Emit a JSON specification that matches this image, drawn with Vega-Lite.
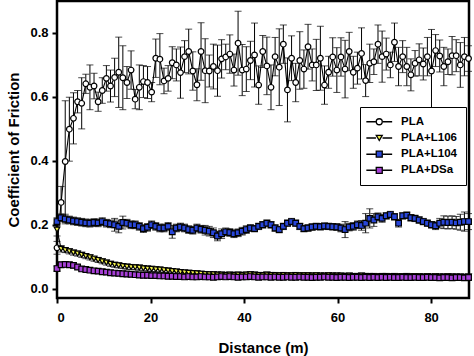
{
"$schema":"https://vega.github.io/schema/vega-lite/v6.json",
"width":412,"height":297,
"autosize":{"type":"none"},
"padding":{"left":57,"top":1,"right":5,"bottom":58},
"background":"white",
"data":{"values":[
{"s":"PLA","x":0,"y":0.128,"e":0.02},{"s":"PLA","x":0.88,"y":0.27,"e":0.05},{"s":"PLA","x":1.76,"y":0.398,"e":0.19},{"s":"PLA","x":2.64,"y":0.499,"e":0.1},{"s":"PLA","x":3.52,"y":0.533,"e":0.08},{"s":"PLA","x":4.4,"y":0.585,"e":0.035},{"s":"PLA","x":5.28,"y":0.58,"e":0.08},{"s":"PLA","x":6.16,"y":0.641,"e":0.03},{"s":"PLA","x":7.04,"y":0.63,"e":0.07},{"s":"PLA","x":7.92,"y":0.634,"e":0.04},
{"s":"PLA","x":8.8,"y":0.585,"e":0.03},{"s":"PLA","x":9.68,"y":0.62,"e":0.04},{"s":"PLA","x":10.56,"y":0.658,"e":0.04},{"s":"PLA","x":11.44,"y":0.634,"e":0.05},{"s":"PLA","x":12.32,"y":0.661,"e":0.06},{"s":"PLA","x":13.2,"y":0.677,"e":0.11},{"s":"PLA","x":14.08,"y":0.66,"e":0.1},{"s":"PLA","x":14.96,"y":0.645,"e":0.05},{"s":"PLA","x":15.84,"y":0.684,"e":0.06},{"s":"PLA","x":16.72,"y":0.593,"e":0.03},
{"s":"PLA","x":17.6,"y":0.63,"e":0.07},{"s":"PLA","x":18.48,"y":0.648,"e":0.05},{"s":"PLA","x":19.36,"y":0.645,"e":0.05},{"s":"PLA","x":20.24,"y":0.615,"e":0.03},{"s":"PLA","x":21.12,"y":0.721,"e":0.06},{"s":"PLA","x":22,"y":0.718,"e":0.08},{"s":"PLA","x":22.88,"y":0.65,"e":0.04},{"s":"PLA","x":23.76,"y":0.658,"e":0.04},{"s":"PLA","x":24.64,"y":0.707,"e":0.05},{"s":"PLA","x":25.52,"y":0.7,"e":0.05},
{"s":"PLA","x":26.4,"y":0.676,"e":0.08},{"s":"PLA","x":27.28,"y":0.726,"e":0.05},{"s":"PLA","x":28.16,"y":0.742,"e":0.07},{"s":"PLA","x":29.04,"y":0.681,"e":0.06},{"s":"PLA","x":29.92,"y":0.638,"e":0.05},{"s":"PLA","x":30.8,"y":0.742,"e":0.09},{"s":"PLA","x":31.68,"y":0.682,"e":0.1},{"s":"PLA","x":32.56,"y":0.681,"e":0.05},{"s":"PLA","x":33.44,"y":0.695,"e":0.07},{"s":"PLA","x":34.32,"y":0.682,"e":0.08},
{"s":"PLA","x":35.2,"y":0.719,"e":0.06},{"s":"PLA","x":36.08,"y":0.725,"e":0.04},{"s":"PLA","x":36.96,"y":0.734,"e":0.06},{"s":"PLA","x":37.84,"y":0.684,"e":0.05},{"s":"PLA","x":38.72,"y":0.768,"e":0.1},{"s":"PLA","x":39.6,"y":0.684,"e":0.08},{"s":"PLA","x":40.48,"y":0.687,"e":0.07},{"s":"PLA","x":41.36,"y":0.714,"e":0.06},{"s":"PLA","x":42.24,"y":0.731,"e":0.1},{"s":"PLA","x":43.12,"y":0.637,"e":0.06},
{"s":"PLA","x":44,"y":0.742,"e":0.05},{"s":"PLA","x":44.88,"y":0.697,"e":0.09},{"s":"PLA","x":45.76,"y":0.63,"e":0.07},{"s":"PLA","x":46.64,"y":0.726,"e":0.06},{"s":"PLA","x":47.52,"y":0.693,"e":0.12},{"s":"PLA","x":48.4,"y":0.765,"e":0.06},{"s":"PLA","x":49.28,"y":0.622,"e":0.1},{"s":"PLA","x":50.16,"y":0.721,"e":0.07},{"s":"PLA","x":51.04,"y":0.645,"e":0.06},{"s":"PLA","x":51.92,"y":0.714,"e":0.09},
{"s":"PLA","x":52.8,"y":0.687,"e":0.06},{"s":"PLA","x":53.68,"y":0.757,"e":0.07},{"s":"PLA","x":54.56,"y":0.7,"e":0.05},{"s":"PLA","x":55.44,"y":0.7,"e":0.08},{"s":"PLA","x":56.32,"y":0.721,"e":0.1},{"s":"PLA","x":57.2,"y":0.637,"e":0.06},{"s":"PLA","x":58.08,"y":0.677,"e":0.05},{"s":"PLA","x":58.96,"y":0.725,"e":0.06},{"s":"PLA","x":59.84,"y":0.684,"e":0.07},{"s":"PLA","x":60.72,"y":0.725,"e":0.06},
{"s":"PLA","x":61.6,"y":0.687,"e":0.09},{"s":"PLA","x":62.48,"y":0.742,"e":0.06},{"s":"PLA","x":63.36,"y":0.677,"e":0.05},{"s":"PLA","x":64.24,"y":0.69,"e":0.05},{"s":"PLA","x":65.12,"y":0.736,"e":0.08},{"s":"PLA","x":66,"y":0.651,"e":0.05},{"s":"PLA","x":66.88,"y":0.705,"e":0.06},{"s":"PLA","x":67.76,"y":0.71,"e":0.04},{"s":"PLA","x":68.64,"y":0.765,"e":0.06},{"s":"PLA","x":69.52,"y":0.726,"e":0.08},
{"s":"PLA","x":70.4,"y":0.734,"e":0.05},{"s":"PLA","x":71.28,"y":0.7,"e":0.04},{"s":"PLA","x":72.16,"y":0.771,"e":0.06},{"s":"PLA","x":73.04,"y":0.695,"e":0.06},{"s":"PLA","x":73.92,"y":0.726,"e":0.05},{"s":"PLA","x":74.8,"y":0.695,"e":0.06},{"s":"PLA","x":75.68,"y":0.669,"e":0.05},{"s":"PLA","x":76.56,"y":0.705,"e":0.04},{"s":"PLA","x":77.44,"y":0.716,"e":0.05},{"s":"PLA","x":78.32,"y":0.703,"e":0.05},
{"s":"PLA","x":79.2,"y":0.726,"e":0.06},{"s":"PLA","x":80.08,"y":0.681,"e":0.13},{"s":"PLA","x":80.96,"y":0.745,"e":0.05},{"s":"PLA","x":81.84,"y":0.728,"e":0.05},{"s":"PLA","x":82.72,"y":0.695,"e":0.06},{"s":"PLA","x":83.6,"y":0.71,"e":0.04},{"s":"PLA","x":84.48,"y":0.729,"e":0.06},{"s":"PLA","x":85.36,"y":0.729,"e":0.05},{"s":"PLA","x":86.24,"y":0.7,"e":0.07},{"s":"PLA","x":87.12,"y":0.726,"e":0.06},{"s":"PLA","x":88,"y":0.72,"e":0.04},
{"s":"PLA+L106","x":0,"y":0.185,"e":0.02},{"s":"PLA+L106","x":0.88,"y":0.125,"e":0.01},{"s":"PLA+L106","x":1.76,"y":0.121,"e":0.008},{"s":"PLA+L106","x":2.64,"y":0.117,"e":0.008},{"s":"PLA+L106","x":3.52,"y":0.113,"e":0.008},{"s":"PLA+L106","x":4.4,"y":0.11,"e":0.008},{"s":"PLA+L106","x":5.28,"y":0.106,"e":0.008},{"s":"PLA+L106","x":6.16,"y":0.102,"e":0.008},{"s":"PLA+L106","x":7.04,"y":0.098,"e":0.008},{"s":"PLA+L106","x":7.92,"y":0.094,"e":0.008},
{"s":"PLA+L106","x":8.8,"y":0.09,"e":0.008},{"s":"PLA+L106","x":9.68,"y":0.086,"e":0.008},{"s":"PLA+L106","x":10.56,"y":0.082,"e":0.008},{"s":"PLA+L106","x":11.44,"y":0.078,"e":0.008},{"s":"PLA+L106","x":12.32,"y":0.075,"e":0.008},{"s":"PLA+L106","x":13.2,"y":0.073,"e":0.008},{"s":"PLA+L106","x":14.08,"y":0.071,"e":0.008},{"s":"PLA+L106","x":14.96,"y":0.069,"e":0.008},{"s":"PLA+L106","x":15.84,"y":0.068,"e":0.008},{"s":"PLA+L106","x":16.72,"y":0.067,"e":0.008},
{"s":"PLA+L106","x":17.6,"y":0.066,"e":0.008},{"s":"PLA+L106","x":18.48,"y":0.064,"e":0.008},{"s":"PLA+L106","x":19.36,"y":0.063,"e":0.008},{"s":"PLA+L106","x":20.24,"y":0.062,"e":0.008},{"s":"PLA+L106","x":21.12,"y":0.061,"e":0.008},{"s":"PLA+L106","x":22,"y":0.06,"e":0.008},{"s":"PLA+L106","x":22.88,"y":0.058,"e":0.008},{"s":"PLA+L106","x":23.76,"y":0.057,"e":0.008},{"s":"PLA+L106","x":24.64,"y":0.055,"e":0.008},{"s":"PLA+L106","x":25.52,"y":0.054,"e":0.008},
{"s":"PLA+L106","x":26.4,"y":0.052,"e":0.008},{"s":"PLA+L106","x":27.28,"y":0.051,"e":0.008},{"s":"PLA+L106","x":28.16,"y":0.05,"e":0.008},{"s":"PLA+L106","x":29.04,"y":0.049,"e":0.008},{"s":"PLA+L106","x":29.92,"y":0.048,"e":0.008},{"s":"PLA+L106","x":30.8,"y":0.047,"e":0.008},{"s":"PLA+L106","x":31.68,"y":0.046,"e":0.008},{"s":"PLA+L106","x":32.56,"y":0.045,"e":0.008},{"s":"PLA+L106","x":33.44,"y":0.045,"e":0.008},{"s":"PLA+L106","x":34.32,"y":0.044,"e":0.008},
{"s":"PLA+L106","x":35.2,"y":0.044,"e":0.008},{"s":"PLA+L106","x":36.08,"y":0.043,"e":0.008},{"s":"PLA+L106","x":36.96,"y":0.044,"e":0.008},{"s":"PLA+L106","x":37.84,"y":0.043,"e":0.008},{"s":"PLA+L106","x":38.72,"y":0.044,"e":0.008},{"s":"PLA+L106","x":39.6,"y":0.043,"e":0.008},{"s":"PLA+L106","x":40.48,"y":0.044,"e":0.008},{"s":"PLA+L106","x":41.36,"y":0.045,"e":0.008},{"s":"PLA+L106","x":42.24,"y":0.044,"e":0.008},{"s":"PLA+L106","x":43.12,"y":0.043,"e":0.008},
{"s":"PLA+L106","x":44,"y":0.043,"e":0.008},{"s":"PLA+L106","x":44.88,"y":0.044,"e":0.008},{"s":"PLA+L106","x":45.76,"y":0.043,"e":0.008},{"s":"PLA+L106","x":46.64,"y":0.043,"e":0.008},{"s":"PLA+L106","x":47.52,"y":0.042,"e":0.008},{"s":"PLA+L106","x":48.4,"y":0.043,"e":0.008},{"s":"PLA+L106","x":49.28,"y":0.042,"e":0.008},{"s":"PLA+L106","x":50.16,"y":0.042,"e":0.008},{"s":"PLA+L106","x":51.04,"y":0.043,"e":0.008},{"s":"PLA+L106","x":51.92,"y":0.042,"e":0.008},
{"s":"PLA+L106","x":52.8,"y":0.042,"e":0.008},{"s":"PLA+L106","x":53.68,"y":0.042,"e":0.008},{"s":"PLA+L106","x":54.56,"y":0.041,"e":0.008},{"s":"PLA+L106","x":55.44,"y":0.042,"e":0.008},{"s":"PLA+L106","x":56.32,"y":0.041,"e":0.008},{"s":"PLA+L106","x":57.2,"y":0.041,"e":0.008},{"s":"PLA+L106","x":58.08,"y":0.042,"e":0.008},{"s":"PLA+L106","x":58.96,"y":0.041,"e":0.008},{"s":"PLA+L106","x":59.84,"y":0.041,"e":0.008},{"s":"PLA+L106","x":60.72,"y":0.041,"e":0.008},
{"s":"PLA+L106","x":61.6,"y":0.04,"e":0.008},{"s":"PLA+L106","x":62.48,"y":0.041,"e":0.008},{"s":"PLA+L106","x":63.36,"y":0.04,"e":0.008},{"s":"PLA+L106","x":64.24,"y":0.04,"e":0.008},{"s":"PLA+L106","x":65.12,"y":0.041,"e":0.008},{"s":"PLA+L106","x":66,"y":0.04,"e":0.008},{"s":"PLA+L106","x":66.88,"y":0.04,"e":0.008},{"s":"PLA+L106","x":67.76,"y":0.04,"e":0.008},{"s":"PLA+L106","x":68.64,"y":0.039,"e":0.008},{"s":"PLA+L106","x":69.52,"y":0.04,"e":0.008},
{"s":"PLA+L106","x":70.4,"y":0.04,"e":0.008},{"s":"PLA+L106","x":71.28,"y":0.039,"e":0.008},{"s":"PLA+L106","x":72.16,"y":0.04,"e":0.008},{"s":"PLA+L106","x":73.04,"y":0.039,"e":0.008},{"s":"PLA+L106","x":73.92,"y":0.039,"e":0.008},{"s":"PLA+L106","x":74.8,"y":0.04,"e":0.008},{"s":"PLA+L106","x":75.68,"y":0.039,"e":0.008},{"s":"PLA+L106","x":76.56,"y":0.039,"e":0.008},{"s":"PLA+L106","x":77.44,"y":0.039,"e":0.008},{"s":"PLA+L106","x":78.32,"y":0.038,"e":0.008},
{"s":"PLA+L106","x":79.2,"y":0.039,"e":0.008},{"s":"PLA+L106","x":80.08,"y":0.038,"e":0.008},{"s":"PLA+L106","x":80.96,"y":0.039,"e":0.008},{"s":"PLA+L106","x":81.84,"y":0.038,"e":0.008},{"s":"PLA+L106","x":82.72,"y":0.038,"e":0.008},{"s":"PLA+L106","x":83.6,"y":0.039,"e":0.008},{"s":"PLA+L106","x":84.48,"y":0.038,"e":0.008},{"s":"PLA+L106","x":85.36,"y":0.038,"e":0.008},{"s":"PLA+L106","x":86.24,"y":0.038,"e":0.008},{"s":"PLA+L106","x":87.12,"y":0.037,"e":0.008},{"s":"PLA+L106","x":88,"y":0.038,"e":0.008},
{"s":"PLA+L104","x":0,"y":0.21,"e":0.012},{"s":"PLA+L104","x":0.88,"y":0.222,"e":0.012},{"s":"PLA+L104","x":1.76,"y":0.218,"e":0.015},{"s":"PLA+L104","x":2.64,"y":0.215,"e":0.012},{"s":"PLA+L104","x":3.52,"y":0.212,"e":0.012},{"s":"PLA+L104","x":4.4,"y":0.21,"e":0.012},{"s":"PLA+L104","x":5.28,"y":0.208,"e":0.012},{"s":"PLA+L104","x":6.16,"y":0.206,"e":0.012},{"s":"PLA+L104","x":7.04,"y":0.205,"e":0.012},{"s":"PLA+L104","x":7.92,"y":0.207,"e":0.012},
{"s":"PLA+L104","x":8.8,"y":0.206,"e":0.012},{"s":"PLA+L104","x":9.68,"y":0.21,"e":0.012},{"s":"PLA+L104","x":10.56,"y":0.205,"e":0.012},{"s":"PLA+L104","x":11.44,"y":0.203,"e":0.012},{"s":"PLA+L104","x":12.32,"y":0.2,"e":0.02},{"s":"PLA+L104","x":13.2,"y":0.195,"e":0.02},{"s":"PLA+L104","x":14.08,"y":0.207,"e":0.02},{"s":"PLA+L104","x":14.96,"y":0.205,"e":0.012},{"s":"PLA+L104","x":15.84,"y":0.2,"e":0.012},{"s":"PLA+L104","x":16.72,"y":0.2,"e":0.012},
{"s":"PLA+L104","x":17.6,"y":0.195,"e":0.012},{"s":"PLA+L104","x":18.48,"y":0.188,"e":0.012},{"s":"PLA+L104","x":19.36,"y":0.192,"e":0.012},{"s":"PLA+L104","x":20.24,"y":0.2,"e":0.012},{"s":"PLA+L104","x":21.12,"y":0.195,"e":0.012},{"s":"PLA+L104","x":22,"y":0.19,"e":0.012},{"s":"PLA+L104","x":22.88,"y":0.19,"e":0.012},{"s":"PLA+L104","x":23.76,"y":0.195,"e":0.012},{"s":"PLA+L104","x":24.64,"y":0.178,"e":0.02},{"s":"PLA+L104","x":25.52,"y":0.19,"e":0.012},
{"s":"PLA+L104","x":26.4,"y":0.193,"e":0.012},{"s":"PLA+L104","x":27.28,"y":0.19,"e":0.012},{"s":"PLA+L104","x":28.16,"y":0.185,"e":0.012},{"s":"PLA+L104","x":29.04,"y":0.183,"e":0.012},{"s":"PLA+L104","x":29.92,"y":0.19,"e":0.012},{"s":"PLA+L104","x":30.8,"y":0.186,"e":0.012},{"s":"PLA+L104","x":31.68,"y":0.183,"e":0.015},{"s":"PLA+L104","x":32.56,"y":0.18,"e":0.015},{"s":"PLA+L104","x":33.44,"y":0.175,"e":0.015},{"s":"PLA+L104","x":34.32,"y":0.165,"e":0.015},
{"s":"PLA+L104","x":35.2,"y":0.172,"e":0.015},{"s":"PLA+L104","x":36.08,"y":0.178,"e":0.012},{"s":"PLA+L104","x":36.96,"y":0.176,"e":0.012},{"s":"PLA+L104","x":37.84,"y":0.172,"e":0.012},{"s":"PLA+L104","x":38.72,"y":0.175,"e":0.012},{"s":"PLA+L104","x":39.6,"y":0.18,"e":0.012},{"s":"PLA+L104","x":40.48,"y":0.185,"e":0.012},{"s":"PLA+L104","x":41.36,"y":0.19,"e":0.01},{"s":"PLA+L104","x":42.24,"y":0.188,"e":0.01},{"s":"PLA+L104","x":43.12,"y":0.195,"e":0.01},
{"s":"PLA+L104","x":44,"y":0.2,"e":0.01},{"s":"PLA+L104","x":44.88,"y":0.205,"e":0.01},{"s":"PLA+L104","x":45.76,"y":0.2,"e":0.01},{"s":"PLA+L104","x":46.64,"y":0.19,"e":0.01},{"s":"PLA+L104","x":47.52,"y":0.185,"e":0.01},{"s":"PLA+L104","x":48.4,"y":0.195,"e":0.01},{"s":"PLA+L104","x":49.28,"y":0.205,"e":0.01},{"s":"PLA+L104","x":50.16,"y":0.21,"e":0.01},{"s":"PLA+L104","x":51.04,"y":0.205,"e":0.01},{"s":"PLA+L104","x":51.92,"y":0.195,"e":0.01},
{"s":"PLA+L104","x":52.8,"y":0.188,"e":0.01},{"s":"PLA+L104","x":53.68,"y":0.19,"e":0.01},{"s":"PLA+L104","x":54.56,"y":0.193,"e":0.01},{"s":"PLA+L104","x":55.44,"y":0.195,"e":0.01},{"s":"PLA+L104","x":56.32,"y":0.194,"e":0.01},{"s":"PLA+L104","x":57.2,"y":0.196,"e":0.01},{"s":"PLA+L104","x":58.08,"y":0.195,"e":0.01},{"s":"PLA+L104","x":58.96,"y":0.194,"e":0.01},{"s":"PLA+L104","x":59.84,"y":0.193,"e":0.01},{"s":"PLA+L104","x":60.72,"y":0.19,"e":0.012},
{"s":"PLA+L104","x":61.6,"y":0.185,"e":0.025},{"s":"PLA+L104","x":62.48,"y":0.193,"e":0.012},{"s":"PLA+L104","x":63.36,"y":0.195,"e":0.012},{"s":"PLA+L104","x":64.24,"y":0.2,"e":0.012},{"s":"PLA+L104","x":65.12,"y":0.198,"e":0.015},{"s":"PLA+L104","x":66,"y":0.205,"e":0.03},{"s":"PLA+L104","x":66.88,"y":0.22,"e":0.03},{"s":"PLA+L104","x":67.76,"y":0.215,"e":0.02},{"s":"PLA+L104","x":68.64,"y":0.225,"e":0.012},{"s":"PLA+L104","x":69.52,"y":0.22,"e":0.012},
{"s":"PLA+L104","x":70.4,"y":0.228,"e":0.01},{"s":"PLA+L104","x":71.28,"y":0.232,"e":0.01},{"s":"PLA+L104","x":72.16,"y":0.225,"e":0.01},{"s":"PLA+L104","x":73.04,"y":0.205,"e":0.012},{"s":"PLA+L104","x":73.92,"y":0.228,"e":0.01},{"s":"PLA+L104","x":74.8,"y":0.23,"e":0.01},{"s":"PLA+L104","x":75.68,"y":0.222,"e":0.01},{"s":"PLA+L104","x":76.56,"y":0.22,"e":0.01},{"s":"PLA+L104","x":77.44,"y":0.215,"e":0.01},{"s":"PLA+L104","x":78.32,"y":0.21,"e":0.01},
{"s":"PLA+L104","x":79.2,"y":0.205,"e":0.01},{"s":"PLA+L104","x":80.08,"y":0.2,"e":0.01},{"s":"PLA+L104","x":80.96,"y":0.197,"e":0.012},{"s":"PLA+L104","x":81.84,"y":0.205,"e":0.015},{"s":"PLA+L104","x":82.72,"y":0.208,"e":0.02},{"s":"PLA+L104","x":83.6,"y":0.207,"e":0.02},{"s":"PLA+L104","x":84.48,"y":0.208,"e":0.02},{"s":"PLA+L104","x":85.36,"y":0.206,"e":0.02},{"s":"PLA+L104","x":86.24,"y":0.208,"e":0.025},{"s":"PLA+L104","x":87.12,"y":0.21,"e":0.03},{"s":"PLA+L104","x":88,"y":0.21,"e":0.025},
{"s":"PLA+DSa","x":0,"y":0.063,"e":0.008},{"s":"PLA+DSa","x":0.88,"y":0.075,"e":0.008},{"s":"PLA+DSa","x":1.76,"y":0.076,"e":0.008},{"s":"PLA+DSa","x":2.64,"y":0.075,"e":0.008},{"s":"PLA+DSa","x":3.52,"y":0.073,"e":0.008},{"s":"PLA+DSa","x":4.4,"y":0.068,"e":0.006},{"s":"PLA+DSa","x":5.28,"y":0.062,"e":0.006},{"s":"PLA+DSa","x":6.16,"y":0.06,"e":0.006},{"s":"PLA+DSa","x":7.04,"y":0.058,"e":0.006},{"s":"PLA+DSa","x":7.92,"y":0.056,"e":0.006},
{"s":"PLA+DSa","x":8.8,"y":0.055,"e":0.006},{"s":"PLA+DSa","x":9.68,"y":0.053,"e":0.006},{"s":"PLA+DSa","x":10.56,"y":0.052,"e":0.006},{"s":"PLA+DSa","x":11.44,"y":0.05,"e":0.006},{"s":"PLA+DSa","x":12.32,"y":0.049,"e":0.006},{"s":"PLA+DSa","x":13.2,"y":0.048,"e":0.006},{"s":"PLA+DSa","x":14.08,"y":0.047,"e":0.006},{"s":"PLA+DSa","x":14.96,"y":0.046,"e":0.006},{"s":"PLA+DSa","x":15.84,"y":0.045,"e":0.006},{"s":"PLA+DSa","x":16.72,"y":0.044,"e":0.006},
{"s":"PLA+DSa","x":17.6,"y":0.043,"e":0.006},{"s":"PLA+DSa","x":18.48,"y":0.042,"e":0.006},{"s":"PLA+DSa","x":19.36,"y":0.042,"e":0.006},{"s":"PLA+DSa","x":20.24,"y":0.041,"e":0.006},{"s":"PLA+DSa","x":21.12,"y":0.041,"e":0.006},{"s":"PLA+DSa","x":22,"y":0.04,"e":0.006},{"s":"PLA+DSa","x":22.88,"y":0.04,"e":0.006},{"s":"PLA+DSa","x":23.76,"y":0.039,"e":0.006},{"s":"PLA+DSa","x":24.64,"y":0.039,"e":0.006},{"s":"PLA+DSa","x":25.52,"y":0.038,"e":0.006},
{"s":"PLA+DSa","x":26.4,"y":0.038,"e":0.006},{"s":"PLA+DSa","x":27.28,"y":0.037,"e":0.006},{"s":"PLA+DSa","x":28.16,"y":0.038,"e":0.006},{"s":"PLA+DSa","x":29.04,"y":0.037,"e":0.006},{"s":"PLA+DSa","x":29.92,"y":0.037,"e":0.006},{"s":"PLA+DSa","x":30.8,"y":0.038,"e":0.006},{"s":"PLA+DSa","x":31.68,"y":0.037,"e":0.006},{"s":"PLA+DSa","x":32.56,"y":0.037,"e":0.006},{"s":"PLA+DSa","x":33.44,"y":0.036,"e":0.006},{"s":"PLA+DSa","x":34.32,"y":0.037,"e":0.006},
{"s":"PLA+DSa","x":35.2,"y":0.038,"e":0.006},{"s":"PLA+DSa","x":36.08,"y":0.037,"e":0.006},{"s":"PLA+DSa","x":36.96,"y":0.038,"e":0.006},{"s":"PLA+DSa","x":37.84,"y":0.037,"e":0.006},{"s":"PLA+DSa","x":38.72,"y":0.036,"e":0.006},{"s":"PLA+DSa","x":39.6,"y":0.037,"e":0.006},{"s":"PLA+DSa","x":40.48,"y":0.037,"e":0.006},{"s":"PLA+DSa","x":41.36,"y":0.038,"e":0.006},{"s":"PLA+DSa","x":42.24,"y":0.037,"e":0.006},{"s":"PLA+DSa","x":43.12,"y":0.036,"e":0.006},
{"s":"PLA+DSa","x":44,"y":0.037,"e":0.006},{"s":"PLA+DSa","x":44.88,"y":0.037,"e":0.006},{"s":"PLA+DSa","x":45.76,"y":0.036,"e":0.006},{"s":"PLA+DSa","x":46.64,"y":0.037,"e":0.006},{"s":"PLA+DSa","x":47.52,"y":0.036,"e":0.006},{"s":"PLA+DSa","x":48.4,"y":0.036,"e":0.006},{"s":"PLA+DSa","x":49.28,"y":0.037,"e":0.006},{"s":"PLA+DSa","x":50.16,"y":0.036,"e":0.006},{"s":"PLA+DSa","x":51.04,"y":0.036,"e":0.006},{"s":"PLA+DSa","x":51.92,"y":0.037,"e":0.006},
{"s":"PLA+DSa","x":52.8,"y":0.036,"e":0.006},{"s":"PLA+DSa","x":53.68,"y":0.036,"e":0.006},{"s":"PLA+DSa","x":54.56,"y":0.035,"e":0.006},{"s":"PLA+DSa","x":55.44,"y":0.036,"e":0.006},{"s":"PLA+DSa","x":56.32,"y":0.036,"e":0.006},{"s":"PLA+DSa","x":57.2,"y":0.037,"e":0.006},{"s":"PLA+DSa","x":58.08,"y":0.036,"e":0.006},{"s":"PLA+DSa","x":58.96,"y":0.036,"e":0.006},{"s":"PLA+DSa","x":59.84,"y":0.035,"e":0.006},{"s":"PLA+DSa","x":60.72,"y":0.036,"e":0.006},
{"s":"PLA+DSa","x":61.6,"y":0.036,"e":0.006},{"s":"PLA+DSa","x":62.48,"y":0.035,"e":0.006},{"s":"PLA+DSa","x":63.36,"y":0.036,"e":0.006},{"s":"PLA+DSa","x":64.24,"y":0.036,"e":0.006},{"s":"PLA+DSa","x":65.12,"y":0.035,"e":0.006},{"s":"PLA+DSa","x":66,"y":0.036,"e":0.006},{"s":"PLA+DSa","x":66.88,"y":0.035,"e":0.006},{"s":"PLA+DSa","x":67.76,"y":0.036,"e":0.006},{"s":"PLA+DSa","x":68.64,"y":0.035,"e":0.006},{"s":"PLA+DSa","x":69.52,"y":0.036,"e":0.006},
{"s":"PLA+DSa","x":70.4,"y":0.035,"e":0.006},{"s":"PLA+DSa","x":71.28,"y":0.036,"e":0.006},{"s":"PLA+DSa","x":72.16,"y":0.035,"e":0.006},{"s":"PLA+DSa","x":73.04,"y":0.035,"e":0.006},{"s":"PLA+DSa","x":73.92,"y":0.036,"e":0.006},{"s":"PLA+DSa","x":74.8,"y":0.035,"e":0.006},{"s":"PLA+DSa","x":75.68,"y":0.035,"e":0.006},{"s":"PLA+DSa","x":76.56,"y":0.036,"e":0.006},{"s":"PLA+DSa","x":77.44,"y":0.035,"e":0.006},{"s":"PLA+DSa","x":78.32,"y":0.035,"e":0.006},
{"s":"PLA+DSa","x":79.2,"y":0.036,"e":0.006},{"s":"PLA+DSa","x":80.08,"y":0.035,"e":0.006},{"s":"PLA+DSa","x":80.96,"y":0.035,"e":0.006},{"s":"PLA+DSa","x":81.84,"y":0.034,"e":0.006},{"s":"PLA+DSa","x":82.72,"y":0.035,"e":0.006},{"s":"PLA+DSa","x":83.6,"y":0.035,"e":0.006},{"s":"PLA+DSa","x":84.48,"y":0.034,"e":0.006},{"s":"PLA+DSa","x":85.36,"y":0.035,"e":0.006},{"s":"PLA+DSa","x":86.24,"y":0.035,"e":0.006},{"s":"PLA+DSa","x":87.12,"y":0.034,"e":0.006},{"s":"PLA+DSa","x":88,"y":0.035,"e":0.006}
]},
"encoding":{
"x":{"field":"x","type":"quantitative","scale":{"domain":[0,88.1],"nice":false,"zero":false},"axis":{"title":"Distance (m)","values":[0,20,40,60,80],"format":"d","labelPadding":8,"titlePadding":16}},
"y":{"field":"y","type":"quantitative","scale":{"domain":[-0.029,0.9],"nice":false,"zero":false},"axis":{"title":"Coefficient of Friction","values":[0,0.2,0.4,0.6,0.8],"format":".1f","titlePadding":8}}
},
"layer":[
{"mark":{"type":"errorbar","ticks":{"size":7},"color":"black","thickness":1},
 "encoding":{"yError":{"field":"e"}}},
{"mark":{"type":"line","strokeWidth":1.1},
 "encoding":{"stroke":{"field":"s","type":"nominal","scale":{"range":["black","black","black","black"]},
   "legend":{"title":null,"orient":"none","legendX":303,"legendY":106,"padding":9,"rowPadding":3.2,"labelFont":"Liberation Sans","labelFontWeight":"bold","labelFontSize":11.5,"labelOpacity":0,"symbolSize":36,"symbolType":"M-4.3,0H-1.1M1.1,0H4.3","symbolStrokeWidth":1.5,"symbolOffset":4.5,"labelOffset":16,"zindex":2}}}},
{"mark":{"type":"point","filled":true,"stroke":"black","strokeWidth":1.2,"opacity":1,"size":32},
 "encoding":{
  "fill":{"field":"s","type":"nominal","scale":{"domain":["PLA","PLA+L106","PLA+L104","PLA+DSa"],"range":["#ffffff","#f2f24a","#2846d8","#a63fd6"]},
   "legend":{"title":null,"orient":"none","legendX":303,"legendY":106,"padding":9,"rowPadding":3.2,"labelFont":"Liberation Sans","labelFontWeight":"bold","labelFontSize":11.5,"labelColor":"black","symbolSize":36,"symbolStrokeColor":"black","symbolStrokeWidth":1.3,"symbolOpacity":1,"symbolOffset":4.5,"labelOffset":16,"strokeColor":"black","fillColor":"white","zindex":1}},
  "shape":{"field":"s","type":"nominal","scale":{"domain":["PLA","PLA+L106","PLA+L104","PLA+DSa"],"range":["circle","triangle-down","square","square"]}}
 }}
],
"config":{
"view":{"stroke":"black","strokeWidth":2.5},
"axis":{"grid":false,"domain":false,"tickColor":"black","tickWidth":2,"tickSize":5,"labelPadding":4,"labelFont":"Liberation Sans","labelFontWeight":"bold","labelFontSize":13,"labelColor":"black","titleFont":"Liberation Sans","titleFontWeight":"bold","titleFontSize":15,"titleColor":"black"}
}
}
